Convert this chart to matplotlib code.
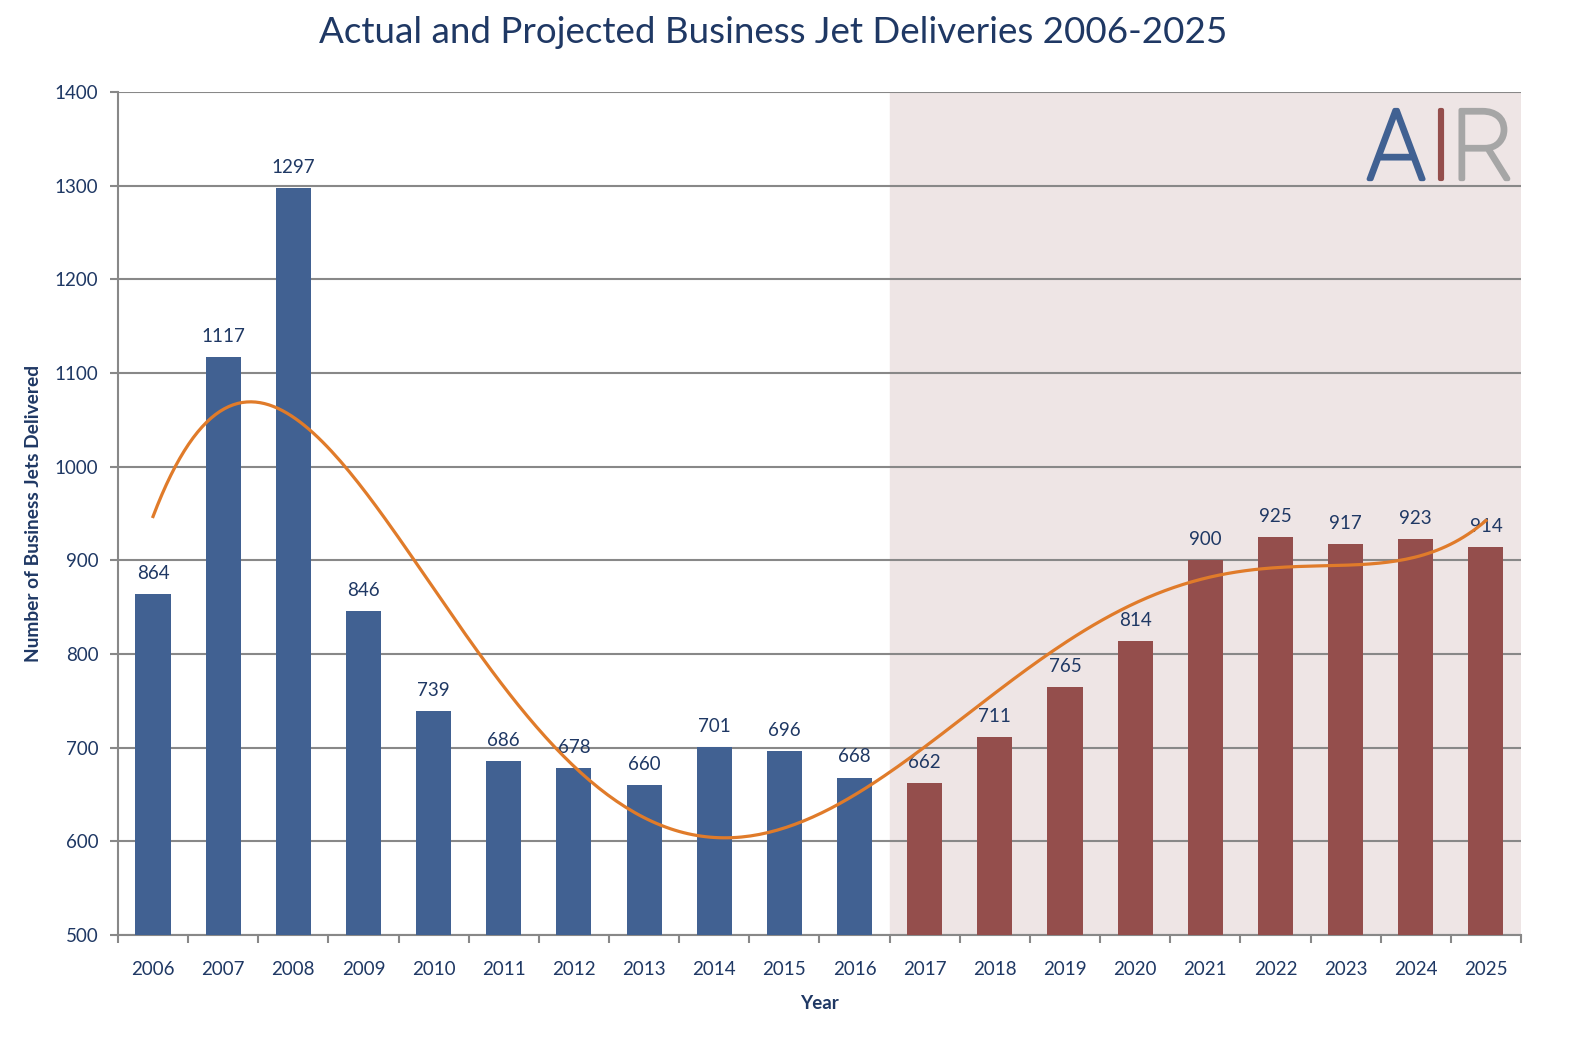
import numpy as np
import matplotlib.pyplot as plt
import matplotlib.patheffects as pe

years = [str(y) for y in range(2006, 2026)]
deliveries = [864, 1117, 1297, 846, 739, 686, 678, 660, 701, 696, 668,
              662, 711, 765, 814, 900, 925, 917, 923, 914]
n_actual = 11  # 2006-2016 actual, rest projected

plt.rcParams['font.family'] = ['Lato', 'DejaVu Sans']
navy = '#1F3864'
blue = '#416192'
red = '#944E4C'

fig = plt.figure(figsize=(15.77, 10.37), dpi=100)
ax = fig.add_axes([0.0748, 0.0984, 0.8897, 0.8129])

x = np.arange(len(years))
colors = [blue] * n_actual + [red] * (len(years) - n_actual)

ax.axvspan(n_actual - 0.5, len(years) - 0.5, color='#EEE5E5', zorder=0)
ax.bar(x, deliveries, width=0.5, color=colors, zorder=3)

for xi, v in zip(x, deliveries):
    ax.text(xi, v + 13, str(v), ha='center', va='bottom', fontsize=13.5, color=navy, zorder=4)

# polynomial trendline like Excel (x = 1..n)
xs = x + 1
coef = np.polyfit(xs, deliveries, 5)
xx = np.linspace(1, len(years), 300)
ax.plot(xx - 1, np.polyval(coef, xx), color='#E07B2A', lw=2.3, zorder=5)

ax.set_xlim(-0.5, len(years) - 0.5)
ax.set_ylim(500, 1400)
ax.set_yticks(range(500, 1401, 100))
ax.set_xticks(x)
ax.set_xticklabels(years)
ax.set_xticks(np.arange(-0.5, len(years)), minor=True)
ax.tick_params(axis='x', which='major', length=0, pad=19, labelsize=13.5, labelcolor=navy)
ax.tick_params(axis='x', which='minor', length=6, color='#888888', width=1.5)
ax.tick_params(axis='y', length=6, color='#888888', width=1.5, labelsize=13.5, labelcolor=navy, pad=8)

ax.grid(axis='y', color='#888888', lw=1.5, zorder=1)
ax.set_axisbelow(True)
for s in ['top', 'right']:
    ax.spines[s].set_visible(False)
for s in ['left', 'bottom']:
    ax.spines[s].set_color('#888888')
    ax.spines[s].set_linewidth(1.5)

ax.set_xlabel('Year', fontsize=13.5, fontweight='bold', color=navy, labelpad=12)
ax.set_ylabel('Number of Business Jets Delivered', fontsize=13.8, fontweight='bold', color=navy, labelpad=9)
fig.suptitle('Actual and Projected Business Jet Deliveries 2006-2025', x=0.49, y=0.985,
             fontsize=26.5, color=navy)

# AIR logo
logo_y = 1307
logo_font = ['Roboto', 'Lato', 'DejaVu Sans']
for xpos, letter, c in [(17.72, 'A', blue), (18.36, 'I', red), (18.96, 'R', '#A6A6A6')]:
    ax.text(xpos, logo_y, letter, fontsize=70, color=c, ha='center', va='baseline',
            family=logo_font, fontweight='light',
            path_effects=[pe.withStroke(linewidth=3, foreground=c)])

fig.savefig('out.png', dpi=100)
